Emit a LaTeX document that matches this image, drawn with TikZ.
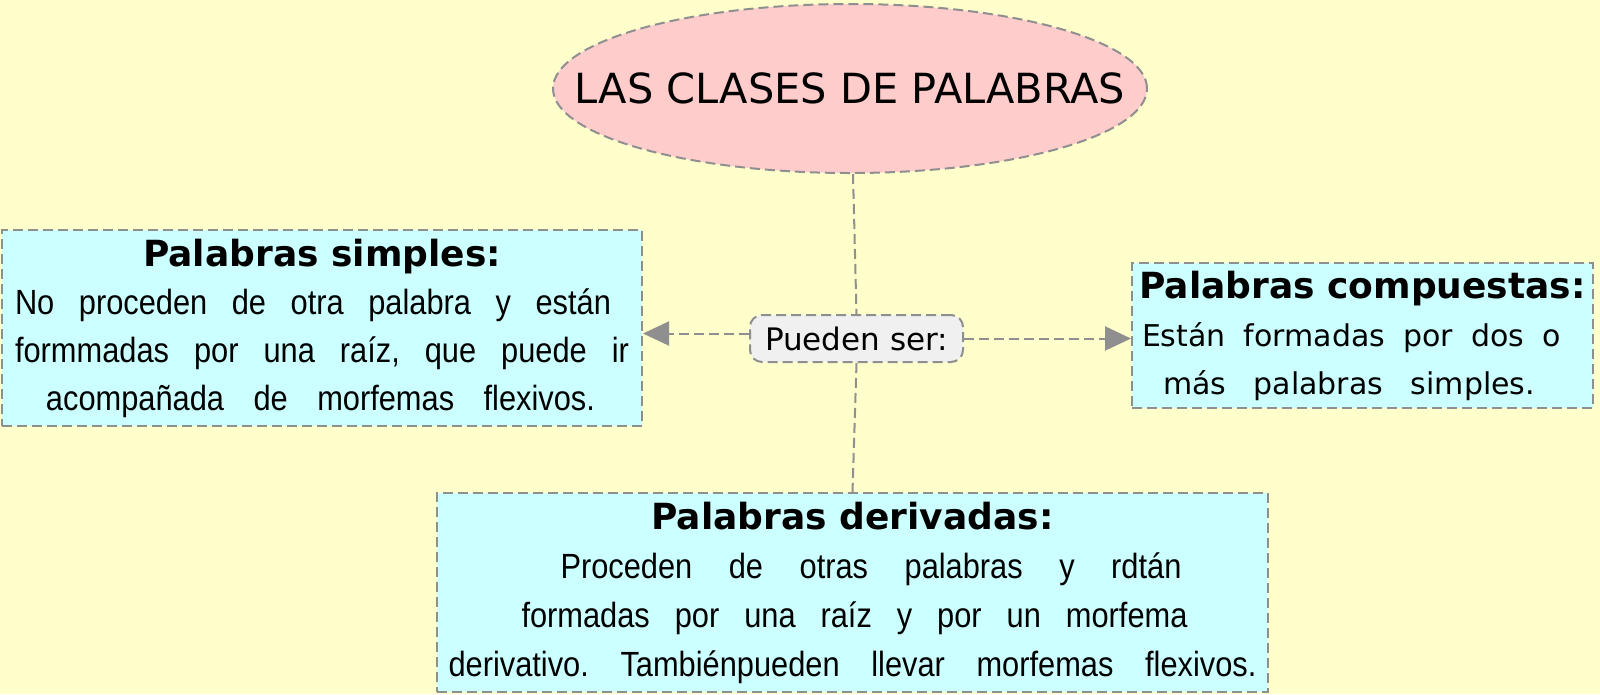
\documentclass[tikz,border=0pt]{standalone}
\usepackage{fontspec}
\setmainfont{DejaVu Sans}
\newfontfamily\cuerpo[FakeStretch=0.88]{Liberation Sans}
\usetikzlibrary{shapes.geometric,arrows.meta}
\frenchspacing
\definecolor{fondo}{HTML}{FFFFCC}
\definecolor{rosa}{HTML}{FFCCCC}
\definecolor{celeste}{HTML}{CCFFFF}
\definecolor{grisclaro}{HTML}{F0F0F0}
\definecolor{grisborde}{HTML}{8F8F8F}
\newcommand\encabezado[1]{{\normalfont\bfseries\fontsize{36}{48}\selectfont #1}}
\tikzset{
  borde/.style={draw=grisborde, line width=2pt, dash pattern=on 10pt off 5pt},
  caja/.style={borde, fill=celeste, inner sep=0pt, align=center},
  enlace/.style={borde},
  flecha/.style={borde, -{Triangle[length=26pt,width=24pt]}}
}
\begin{document}
\begin{tikzpicture}[x=1pt,y=-1pt]
\path[use as bounding box, fill=fondo] (0,0) rectangle (1600,694);
\node[ellipse, borde, fill=rosa, inner sep=0pt, minimum width=594pt, minimum height=169pt, font=\fontsize{41.5}{48}\selectfont] (titulo) at (850,88.5) {\makebox[0pt]{LAS CLASES DE PALABRAS}};
\node[borde, fill=grisclaro, rounded corners=12pt, inner sep=0pt, minimum width=213pt, minimum height=47pt, font=\fontsize{31}{36}\selectfont] (pueden) at (856.5,338.5) {Pueden ser:};
\node[caja, minimum width=640pt, minimum height=196pt, font=\cuerpo\fontsize{35}{48}\selectfont] (simples) at (322,328) {\encabezado{Palabras simples:}\\
\makebox[614pt][l]{\makebox[596pt][s]{No proceden de otra palabra y están}}\\
\makebox[614pt][s]{formmadas por una raíz, que puede ir}\\
\makebox[614pt][l]{\hspace{31pt}\makebox[549pt][s]{acompañada de morfemas flexivos.}}};
\node[caja, minimum width=461pt, minimum height=145pt, font=\fontsize{30}{48}\selectfont] (compuestas) at (1362.5,335.5) {\encabezado{Palabras compuestas:}\\
\makebox[441pt][l]{\makebox[419pt][s]{Están formadas por dos o}}\\
\makebox[441pt][l]{\hspace{21pt}\makebox[372pt][s]{más palabras simples.}}};
\node[caja, minimum width=831pt, minimum height=199pt, font=\cuerpo\fontsize{35}{49}\selectfont] (derivadas) at (852.5,592.5) {\encabezado{Palabras derivadas:}\\
\makebox[808pt][l]{\hspace{112pt}\makebox[621pt][s]{Proceden de otras palabras y rdtán}}\\
\makebox[808pt][l]{\hspace{73pt}\makebox[666pt][s]{formadas por una raíz y por un morfema}}\\
\makebox[808pt][s]{derivativo. Tambiénpueden llevar morfemas flexivos.}};
\draw[enlace] ([xshift=3pt]titulo.south) -- (pueden.north);
\draw[enlace] (pueden.south) -- (derivadas.north);
\draw[flecha] ([yshift=5pt]pueden.west) -- ([yshift=5pt]pueden.west -| simples.east);
\draw[flecha] (pueden.east) -- (pueden.east -| compuestas.west);
\end{tikzpicture}
\end{document}
